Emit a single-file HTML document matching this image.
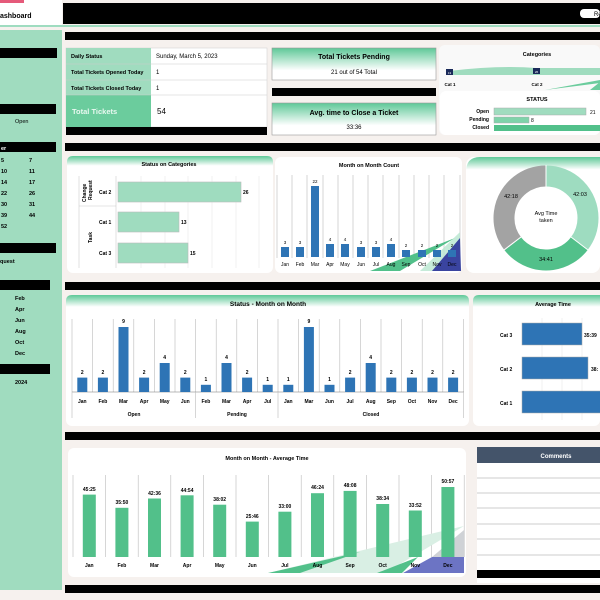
<!DOCTYPE html>
<html><head><meta charset="utf-8"><style>
html,body{margin:0;padding:0;background:#f6f1ee;}
svg{display:block;font-family:"Liberation Sans",sans-serif;}
text{font-family:"Liberation Sans",sans-serif;}
</style></head><body>
<svg width="600" height="600" viewBox="0 0 600 600" xmlns="http://www.w3.org/2000/svg">
<defs>
<linearGradient id="hg" x1="0" y1="0" x2="0" y2="1"><stop offset="0" stop-color="#5ec897"/><stop offset="0.7" stop-color="#ffffff"/></linearGradient>
</defs>
<rect width="600" height="600" fill="#f6f1ee"/>
<!-- header -->
<rect x="0" y="0" width="62" height="26" fill="#fff"/>
<rect x="0" y="0" width="24" height="3" fill="#e55a7a"/>
<text x="0" y="18" font-size="7" font-weight="bold">ashboard</text>
<rect x="63" y="3" width="537" height="21" fill="#000"/>
<rect x="580" y="9" width="20" height="9" rx="4" fill="#fff"/>
<text x="594" y="16" font-size="6">Re</text>
<rect x="0" y="25" width="600" height="2" fill="#9fdcc0"/>
<!-- sidebar -->
<rect x="0" y="30" width="62" height="560" fill="#a0dcbf"/>
<rect x="0" y="48" width="57" height="10" fill="#000"/>
<rect x="0" y="104" width="56" height="10" fill="#000"/>
<text x="15" y="123" font-size="5.5">Open</text>
<rect x="0" y="142" width="56" height="10" fill="#000"/>
<text x="1" y="150" font-size="5.5" fill="#fff" font-weight="bold">er</text>
<g font-size="5.5" font-weight="bold">
<text x="1" y="162">5</text><text x="29" y="162">7</text>
<text x="1" y="173">10</text><text x="29" y="173">11</text>
<text x="1" y="184">14</text><text x="29" y="184">17</text>
<text x="1" y="195">22</text><text x="29" y="195">26</text>
<text x="1" y="206">30</text><text x="29" y="206">31</text>
<text x="1" y="217">39</text><text x="29" y="217">44</text>
<text x="1" y="228">52</text>
<text x="0" y="263">quest</text>
<text x="15" y="300">Feb</text><text x="15" y="311">Apr</text><text x="15" y="322">Jun</text><text x="15" y="333">Aug</text><text x="15" y="344">Oct</text><text x="15" y="355">Dec</text>
<text x="15" y="384">2024</text>
</g>
<rect x="0" y="243" width="56" height="10" fill="#000"/>
<rect x="0" y="280" width="50" height="10" fill="#000"/>
<rect x="0" y="364" width="50" height="10" fill="#000"/>
<!-- black bars -->
<rect x="65" y="32" width="535" height="8" fill="#000"/>
<rect x="65" y="143" width="535" height="8" fill="#000"/>
<rect x="65" y="282" width="535" height="8" fill="#000"/>
<rect x="65" y="432" width="535" height="8" fill="#000"/>
<rect x="65" y="585" width="535" height="8" fill="#000"/>
<!-- daily status table -->
<rect x="66" y="48" width="201" height="79" fill="#fff" stroke="#ccc" stroke-width="0.5"/>
<rect x="66" y="48" width="85" height="47" fill="#a0dcbf"/>
<rect x="66" y="95" width="85" height="32" fill="#6bcc9d"/>
<line x1="66" y1="64" x2="267" y2="64" stroke="#ccc" stroke-width="0.6"/>
<line x1="66" y1="80" x2="267" y2="80" stroke="#ccc" stroke-width="0.6"/>
<line x1="66" y1="95" x2="267" y2="95" stroke="#ccc" stroke-width="0.6"/>
<rect x="66" y="127" width="201" height="8" fill="#000"/>
<g font-size="5.5" font-weight="bold">
<text x="71" y="58">Daily Status</text><text x="71" y="74">Total Tickets Opened Today</text><text x="71" y="90">Total Tickets Closed Today</text>
</g>
<text x="72" y="114" font-size="7.5" font-weight="bold" fill="#e8f8f0">Total Tickets</text>
<g font-size="6"><text x="156" y="58">Sunday, March 5, 2023</text><text x="156" y="74">1</text><text x="156" y="90">1</text></g>
<text x="157" y="114" font-size="8">54</text>
<!-- KPI boxes -->
<rect x="272" y="48" width="164" height="32" fill="url(#hg)" stroke="#999" stroke-width="0.6"/>
<text x="354" y="59" font-size="7" font-weight="bold" text-anchor="middle">Total Tickets Pending</text>
<text x="354" y="74" font-size="6" text-anchor="middle">21 out of 54 Total</text>
<rect x="272" y="88" width="164" height="8" fill="#000"/>
<rect x="272" y="103" width="164" height="32" fill="url(#hg)" stroke="#999" stroke-width="0.6"/>
<text x="354" y="115" font-size="7" font-weight="bold" text-anchor="middle">Avg. time to Close a Ticket</text>
<text x="354" y="129" font-size="6" text-anchor="middle">33:36</text>
<!-- categories panel -->
<rect x="439" y="45" width="161" height="90" rx="6" fill="#f9f9f9"/>
<text x="537" y="56" font-size="5.5" font-weight="bold" text-anchor="middle">Categories</text>
<path d="M449 71 Q500 65 536 68 L600 68 L600 75 L449 75Z" fill="#a0dcbf"/>
<path d="M545 90 L600 80 L600 83Z M590 90 L600 82 L600 90Z" fill="#6bcc9d"/>
<rect x="446" y="69" width="7" height="6" fill="#1a2a5a"/><text x="449.5" y="74" font-size="3" fill="#fff" text-anchor="middle">13</text>
<rect x="533" y="68" width="7" height="6" fill="#1a2a5a"/><text x="536.5" y="73" font-size="3" fill="#fff" text-anchor="middle">26</text>
<text x="450" y="86" font-size="4.5" font-weight="bold" text-anchor="middle">Cat 1</text>
<text x="537" y="86" font-size="4.5" font-weight="bold" text-anchor="middle">Cat 2</text>
<rect x="440" y="91" width="160" height="44" rx="6" fill="#fff"/>
<text x="537" y="101" font-size="5.5" font-weight="bold" text-anchor="middle">STATUS</text>
<g font-size="5" font-weight="bold" text-anchor="end"><text x="489" y="113">Open</text><text x="489" y="121">Pending</text><text x="489" y="129">Closed</text></g>
<rect x="494" y="108" width="92" height="7" fill="#a0dcbf" stroke="#aaa" stroke-width="0.5"/>
<rect x="494" y="117" width="35" height="6" fill="#7fd3aa" stroke="#aaa" stroke-width="0.5"/>
<rect x="494" y="125" width="106" height="6" fill="#52c08a"/>
<text x="590" y="114" font-size="5">21</text><text x="531" y="122" font-size="5">8</text>
<!-- row2: status on categories -->
<rect x="67" y="156" width="206" height="117" rx="6" fill="#fff"/>
<path d="M67 162 Q67 156 73 156 L267 156 Q273 156 273 162 L273 170 L67 170Z" fill="url(#hg)"/>
<text x="169" y="166" font-size="5.5" font-weight="bold" text-anchor="middle">Status on Categories</text>
<g stroke="#e4e4e4" stroke-width="0.5"><line x1="141" y1="176" x2="141" y2="268"/><line x1="165" y1="176" x2="165" y2="268"/><line x1="188" y1="176" x2="188" y2="268"/><line x1="212" y1="176" x2="212" y2="268"/><line x1="236" y1="176" x2="236" y2="268"/><line x1="259" y1="176" x2="259" y2="268"/></g>
<line x1="116" y1="176" x2="116" y2="268" stroke="#ccc" stroke-width="0.6"/>
<line x1="79" y1="176" x2="79" y2="268" stroke="#ccc" stroke-width="0.6"/>
<line x1="79" y1="206" x2="116" y2="206" stroke="#ccc" stroke-width="0.6"/>
<rect x="118" y="182" width="123" height="20" fill="#9fdcbf" stroke="#bbb" stroke-width="0.6"/>
<rect x="118" y="212" width="61" height="20" fill="#9fdcbf" stroke="#bbb" stroke-width="0.6"/>
<rect x="118" y="243" width="70" height="20" fill="#9fdcbf" stroke="#bbb" stroke-width="0.6"/>
<g font-size="5" font-weight="bold"><text x="243" y="194">26</text><text x="181" y="224">13</text><text x="190" y="255">15</text>
<text x="99" y="194">Cat 2</text><text x="99" y="224">Cat 1</text><text x="99" y="255">Cat 3</text>
<text transform="translate(86,202) rotate(-90)">Change</text><text transform="translate(92,200) rotate(-90)">Request</text>
<text transform="translate(92,243) rotate(-90)">Task</text></g>
<!-- row2: MoM count -->
<rect x="275" y="157" width="187" height="116" rx="6" fill="#fff"/>
<text x="369" y="167" font-size="5.5" font-weight="bold" text-anchor="middle">Month on Month Count</text>
<g stroke="#bbb" stroke-width="0.6">
<line x1="277" y1="175" x2="277" y2="258"/><line x1="292" y1="175" x2="292" y2="258"/><line x1="307" y1="175" x2="307" y2="258"/><line x1="323" y1="175" x2="323" y2="258"/><line x1="338" y1="175" x2="338" y2="258"/><line x1="353" y1="175" x2="353" y2="258"/><line x1="368" y1="175" x2="368" y2="258"/><line x1="383" y1="175" x2="383" y2="258"/><line x1="399" y1="175" x2="399" y2="258"/><line x1="414" y1="175" x2="414" y2="258"/><line x1="429" y1="175" x2="429" y2="258"/><line x1="444" y1="175" x2="444" y2="258"/><line x1="460" y1="175" x2="460" y2="258"/></g>
<path d="M370 271 L455 238 L460 235 L400 271Z" fill="#52c08a"/>
<path d="M420 271 L460 232 L460 271Z" fill="#b8e6d0" opacity="0.8"/>
<path d="M432 271 L460 238 L461 271Z" fill="#3a44a0"/>
<g fill="#2e74b5">
<rect x="281" y="247" width="8" height="10"/><rect x="296" y="247" width="8" height="10"/><rect x="311" y="186" width="8" height="71"/><rect x="326" y="244" width="8" height="13"/><rect x="341" y="244" width="8" height="13"/><rect x="357" y="247" width="8" height="10"/><rect x="372" y="247" width="8" height="10"/><rect x="387" y="244" width="8" height="13"/><rect x="402" y="250" width="8" height="7"/><rect x="418" y="250" width="8" height="7"/><rect x="433" y="250" width="8" height="7"/><rect x="448" y="250" width="8" height="7"/></g>
<g font-size="4.5" text-anchor="middle"><text x="285" y="244">3</text><text x="300" y="244">3</text><text x="315" y="183">22</text><text x="330" y="241">4</text><text x="345" y="241">4</text><text x="361" y="244">3</text><text x="376" y="244">3</text><text x="391" y="241">4</text><text x="406" y="247">2</text><text x="422" y="247">2</text><text x="437" y="247">2</text><text x="452" y="247">2</text></g>
<g font-size="5" text-anchor="middle"><text x="285" y="266">Jan</text><text x="300" y="266">Feb</text><text x="315" y="266">Mar</text><text x="330" y="266">Apr</text><text x="345" y="266">May</text><text x="361" y="266">Jun</text><text x="376" y="266">Jul</text><text x="391" y="266">Aug</text><text x="406" y="266">Sep</text><text x="422" y="266">Oct</text><text x="437" y="266">Nov</text><text x="452" y="266">Dec</text></g>
<!-- donut -->
<rect x="466" y="157" width="134" height="116" rx="8" fill="#fff"/>
<path d="M466 172 Q466 157 480 157 L600 157 L600 175 L466 175Z" fill="url(#hg)"/>
<g transform="translate(546,218)">
<circle r="42" fill="none" stroke="#9edcc0" stroke-width="21" stroke-dasharray="93.3 400" transform="rotate(-90)"/>
<circle r="42" fill="none" stroke="#52c08a" stroke-width="21" stroke-dasharray="77 400" transform="rotate(37)"/>
<circle r="42" fill="none" stroke="#a3a3a3" stroke-width="21" stroke-dasharray="93.6 400" transform="rotate(142)"/>
<line x1="0" y1="-53" x2="0" y2="-31" stroke="#fff" stroke-width="1"/>
<line x1="25" y1="19" x2="42" y2="32" stroke="#fff" stroke-width="1"/>
<line x1="-25" y1="19" x2="-42" y2="32" stroke="#fff" stroke-width="1"/>
<text x="0" y="-3" font-size="5.5" text-anchor="middle">Avg Time</text><text x="0" y="4" font-size="5.5" text-anchor="middle">taken</text>
<text x="34" y="-22" font-size="5.5" text-anchor="middle">42:03</text>
<text x="-35" y="-20" font-size="5.5" text-anchor="middle">42:18</text>
<text x="0" y="43" font-size="5.5" text-anchor="middle">34:41</text>
</g>
<!-- row3 status month on month -->
<rect x="66" y="295" width="403" height="131" rx="6" fill="#fff"/>
<path d="M66 301 Q66 295 72 295 L463 295 Q469 295 469 301 L469 312 L66 312Z" fill="url(#hg)"/>
<text x="268" y="306" font-size="6.5" font-weight="bold" text-anchor="middle">Status - Month on Month</text>
<g stroke="#bbb" stroke-width="0.6">
<line x1="72" y1="319" x2="72" y2="392"/><line x1="92.6" y1="319" x2="92.6" y2="392"/><line x1="113.2" y1="319" x2="113.2" y2="392"/><line x1="133.8" y1="319" x2="133.8" y2="392"/><line x1="154.4" y1="319" x2="154.4" y2="392"/><line x1="175" y1="319" x2="175" y2="392"/><line x1="195.6" y1="319" x2="195.6" y2="392"/><line x1="216.2" y1="319" x2="216.2" y2="392"/><line x1="236.8" y1="319" x2="236.8" y2="392"/><line x1="257.4" y1="319" x2="257.4" y2="392"/><line x1="278" y1="319" x2="278" y2="392"/><line x1="298.6" y1="319" x2="298.6" y2="392"/><line x1="319.2" y1="319" x2="319.2" y2="392"/><line x1="339.8" y1="319" x2="339.8" y2="392"/><line x1="360.4" y1="319" x2="360.4" y2="392"/><line x1="381" y1="319" x2="381" y2="392"/><line x1="401.6" y1="319" x2="401.6" y2="392"/><line x1="422.2" y1="319" x2="422.2" y2="392"/><line x1="442.8" y1="319" x2="442.8" y2="392"/><line x1="463.4" y1="319" x2="463.4" y2="392"/>
<line x1="72" y1="392" x2="464" y2="392" stroke="#777"/>
<line x1="72" y1="392" x2="72" y2="418"/><line x1="195.6" y1="392" x2="195.6" y2="418"/><line x1="278" y1="392" x2="278" y2="418"/><line x1="463.4" y1="392" x2="463.4" y2="418"/></g>
<g fill="#2e74b5">
<rect x="77.3" y="377.6" width="10" height="14.4"/><rect x="97.9" y="377.6" width="10" height="14.4"/><rect x="118.5" y="327" width="10" height="65"/><rect x="139.1" y="377.6" width="10" height="14.4"/><rect x="159.7" y="363" width="10" height="29"/><rect x="180.3" y="377.6" width="10" height="14.4"/>
<rect x="200.9" y="384.8" width="10" height="7.2"/><rect x="221.5" y="363" width="10" height="29"/><rect x="242.1" y="377.6" width="10" height="14.4"/><rect x="262.7" y="384.8" width="10" height="7.2"/>
<rect x="283.3" y="384.8" width="10" height="7.2"/><rect x="303.9" y="327" width="10" height="65"/><rect x="324.5" y="384.8" width="10" height="7.2"/><rect x="345.1" y="377.6" width="10" height="14.4"/><rect x="365.7" y="363" width="10" height="29"/><rect x="386.3" y="377.6" width="10" height="14.4"/><rect x="406.9" y="377.6" width="10" height="14.4"/><rect x="427.5" y="377.6" width="10" height="14.4"/><rect x="448.1" y="377.6" width="10" height="14.4"/></g>
<g font-size="5" font-weight="bold" text-anchor="middle">
<text x="82.3" y="374">2</text><text x="102.9" y="374">2</text><text x="123.5" y="323">9</text><text x="144.1" y="374">2</text><text x="164.7" y="359">4</text><text x="185.3" y="374">2</text><text x="205.9" y="381">1</text><text x="226.5" y="359">4</text><text x="247.1" y="374">2</text><text x="267.7" y="381">1</text><text x="288.3" y="381">1</text><text x="308.9" y="323">9</text><text x="329.5" y="381">1</text><text x="350.1" y="374">2</text><text x="370.7" y="359">4</text><text x="391.3" y="374">2</text><text x="411.9" y="374">2</text><text x="432.5" y="374">2</text><text x="453.1" y="374">2</text>
<text x="82.3" y="403">Jan</text><text x="102.9" y="403">Feb</text><text x="123.5" y="403">Mar</text><text x="144.1" y="403">Apr</text><text x="164.7" y="403">May</text><text x="185.3" y="403">Jun</text><text x="205.9" y="403">Feb</text><text x="226.5" y="403">Mar</text><text x="247.1" y="403">Apr</text><text x="267.7" y="403">Jul</text><text x="288.3" y="403">Jan</text><text x="308.9" y="403">Mar</text><text x="329.5" y="403">Jun</text><text x="350.1" y="403">Jul</text><text x="370.7" y="403">Aug</text><text x="391.3" y="403">Sep</text><text x="411.9" y="403">Oct</text><text x="432.5" y="403">Nov</text><text x="453.1" y="403">Dec</text>
<text x="134" y="416">Open</text><text x="237" y="416">Pending</text><text x="371" y="416">Closed</text></g>
<!-- average time -->
<rect x="473" y="295" width="127" height="131" rx="6" fill="#fff"/>
<path d="M473 301 Q473 295 479 295 L600 295 L600 312 L473 312Z" fill="url(#hg)"/>
<text x="553" y="306" font-size="5.5" font-weight="bold" text-anchor="middle">Average Time</text>
<g stroke="#e4e4e4" stroke-width="0.5"><line x1="542" y1="318" x2="542" y2="420"/><line x1="562" y1="318" x2="562" y2="420"/><line x1="582" y1="318" x2="582" y2="420"/></g>
<g fill="#2e74b5" stroke="#aaa" stroke-width="0.5"><rect x="522" y="323" width="60" height="22"/><rect x="522" y="357" width="66" height="22"/><rect x="522" y="391" width="80" height="22"/></g>
<g font-size="5" font-weight="bold"><text x="500" y="337">Cat 3</text><text x="500" y="371">Cat 2</text><text x="500" y="405">Cat 1</text><text x="584" y="337">35:39</text><text x="591" y="371">38:</text></g>
<!-- row4 avg time month -->
<rect x="68" y="448" width="398" height="129" rx="6" fill="#fff"/>
<text x="267" y="460" font-size="5.5" font-weight="bold" text-anchor="middle">Month on Month - Average Time</text>
<g stroke="#bbb" stroke-width="0.6">
<line x1="73" y1="475" x2="73" y2="557"/><line x1="105.6" y1="475" x2="105.6" y2="557"/><line x1="138.2" y1="475" x2="138.2" y2="557"/><line x1="170.8" y1="475" x2="170.8" y2="557"/><line x1="203.4" y1="475" x2="203.4" y2="557"/><line x1="236" y1="475" x2="236" y2="557"/><line x1="268.6" y1="475" x2="268.6" y2="557"/><line x1="301.2" y1="475" x2="301.2" y2="557"/><line x1="333.8" y1="475" x2="333.8" y2="557"/><line x1="366.4" y1="475" x2="366.4" y2="557"/><line x1="399" y1="475" x2="399" y2="557"/><line x1="431.6" y1="475" x2="431.6" y2="557"/><line x1="464.2" y1="475" x2="464.2" y2="557"/></g>
<path d="M268 573 L430 534 L464 526 L385 573Z" fill="#d9efe4"/>
<path d="M268 573 L360 552 L300 573Z" fill="#52c08a"/>
<path d="M377 573 L418 557 L402 573Z" fill="#52c08a"/>
<path d="M403 573 L432 557 L464 557 L464 573Z" fill="#6c74c4"/>
<path d="M432 557 L464 530 L464 557Z" fill="#cfd2d6"/>
<g fill="#52c08a">
<rect x="82.8" y="494.6" width="13" height="62.4"/><rect x="115.4" y="507.8" width="13" height="49.2"/><rect x="148" y="498.5" width="13" height="58.5"/><rect x="180.6" y="495.3" width="13" height="61.7"/><rect x="213.2" y="504.7" width="13" height="52.3"/><rect x="245.8" y="521.6" width="13" height="35.4"/><rect x="278.4" y="511.7" width="13" height="45.3"/><rect x="311" y="493.2" width="13" height="63.8"/><rect x="343.6" y="490.9" width="13" height="66.1"/><rect x="376.2" y="504" width="13" height="53"/><rect x="408.8" y="510.5" width="13" height="46.5"/><rect x="441.4" y="487" width="13" height="70"/></g>
<g font-size="5" font-weight="bold" text-anchor="middle">
<text x="89.3" y="491">45:25</text><text x="121.9" y="504">35:50</text><text x="154.5" y="495">42:36</text><text x="187.1" y="492">44:54</text><text x="219.7" y="501">38:02</text><text x="252.3" y="518">25:46</text><text x="284.9" y="508">33:00</text><text x="317.5" y="489">46:24</text><text x="350.1" y="487">48:08</text><text x="382.7" y="500">38:34</text><text x="415.3" y="507">33:52</text><text x="447.9" y="483">50:57</text>
<text x="89.3" y="567">Jan</text><text x="121.9" y="567">Feb</text><text x="154.5" y="567">Mar</text><text x="187.1" y="567">Apr</text><text x="219.7" y="567">May</text><text x="252.3" y="567">Jun</text><text x="284.9" y="567">Jul</text><text x="317.5" y="567">Aug</text><text x="350.1" y="567">Sep</text><text x="382.7" y="567">Oct</text><text x="415.3" y="567">Nov</text><text x="447.9" y="567">Dec</text></g>
<!-- comments -->
<rect x="477" y="448" width="123" height="135" fill="#fff"/>
<rect x="477" y="447" width="123" height="16" fill="#44546a"/>
<text x="556" y="458" font-size="6" font-weight="bold" fill="#fff" text-anchor="middle">Comments</text>
<g stroke="#bbb" stroke-width="0.7"><line x1="477" y1="478" x2="600" y2="478"/><line x1="477" y1="493" x2="600" y2="493"/><line x1="477" y1="508" x2="600" y2="508"/><line x1="477" y1="524" x2="600" y2="524"/><line x1="477" y1="539" x2="600" y2="539"/><line x1="477" y1="555" x2="600" y2="555"/></g>
<rect x="477" y="570" width="123" height="8" fill="#000"/>
</svg>
</body></html>
